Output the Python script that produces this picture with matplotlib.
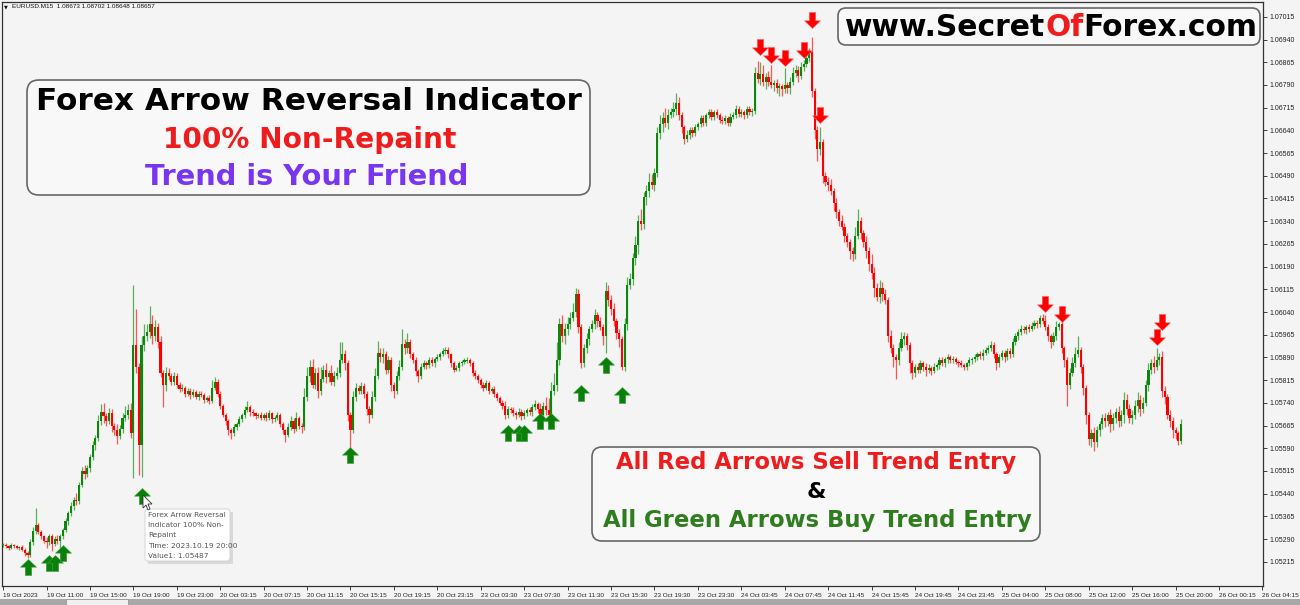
import numpy as np
import matplotlib
matplotlib.use("Agg")
import matplotlib.pyplot as plt
from matplotlib.path import Path
from matplotlib.patches import FancyBboxPatch, Rectangle, Polygon

# prices are kept in points (0.00001) above BASE
BASE = 1.05

open_first = 270

closes = [
    272, 268, 262, 270, 266, 262, 264, 255, 245, 238, 280, 318, 335, 315, 300, 285,
    280, 300, 275, 290, 285, 300, 320, 350, 375, 400, 420, 415, 470, 515, 505, 525,
    560, 600, 625, 680, 710, 695, 680, 705, 665, 650, 630, 655, 690, 700, 715, 640,
    930, 860, 600, 930, 960, 975, 1000, 960, 990, 940, 840, 800, 840, 830, 810, 830,
    800, 785, 790, 770, 780, 765, 775, 760, 770, 765, 750, 755, 745, 790, 810, 770,
    730, 700, 680, 650, 640, 660, 670, 685, 700, 715, 725, 710, 705, 695, 700, 690,
    700, 690, 705, 685, 690, 700, 670, 650, 635, 660, 680, 655, 690, 665, 660, 760,
    830, 860, 800, 840, 780, 820, 850, 825, 840, 810, 830, 840, 880, 900, 870, 700,
    650, 760, 790, 780, 795, 770, 720, 700, 760, 830, 905, 890, 900, 850, 880, 800,
    780, 830, 860, 935, 920, 940, 900, 880, 845, 830, 860, 870, 865, 880, 870, 885,
    890, 900, 910, 915, 900, 870, 850, 855, 870, 875, 880, 882, 870, 840, 830, 815,
    800, 790, 805, 780, 785, 770, 755, 740, 730, 700, 720, 715, 705, 700, 710, 695,
    705, 715, 710, 725, 735, 720, 700, 730, 715, 700, 780, 800, 880, 1000, 960, 985,
    1000, 1020, 1040, 1100, 990, 870, 920, 950, 985, 1000, 1030, 1010, 990, 960, 1110, 1080,
    1050, 1010, 970, 950, 860, 1000, 1130, 1150, 1220, 1260, 1340, 1330, 1420, 1440, 1470, 1460,
    1500, 1630, 1660, 1680, 1665, 1690, 1700, 1710, 1730, 1690, 1650, 1610, 1625, 1640, 1630, 1650,
    1660, 1680, 1665, 1690, 1700, 1685, 1700, 1690, 1675, 1670, 1680, 1665, 1685, 1690, 1710, 1695,
    1700, 1690, 1710, 1700, 1705, 1830, 1810, 1825, 1800, 1815, 1800, 1790, 1795, 1780, 1785, 1775,
    1790, 1780, 1800, 1830, 1840, 1820, 1850, 1860, 1880, 1900, 1770, 1640, 1580, 1600, 1490, 1470,
    1460, 1440, 1400, 1370, 1340, 1320, 1290, 1270, 1240, 1230, 1290, 1340, 1300, 1270, 1240, 1200,
    1170, 1120, 1090, 1120, 1100, 1080, 960, 920, 890, 880, 920, 950, 960, 930, 870, 840,
    860, 850, 870, 860, 850, 855, 845, 860, 865, 880, 870, 885, 890, 880, 885, 875,
    870, 865, 860, 870, 880, 885, 890, 900, 895, 905, 915, 920, 930, 900, 870, 890,
    905, 890, 910, 900, 940, 960, 975, 985, 980, 990, 985, 995, 1005, 1000, 1020, 1010,
    990, 960, 940, 960, 990, 1000, 920, 880, 800, 840, 870, 900, 915, 860, 790, 700,
    620, 640, 610, 650, 670, 690, 680, 700, 670, 690, 710, 680, 700, 750, 720, 690,
    700, 730, 750, 720, 740, 800, 850, 870, 860, 880, 890, 780, 760, 700, 680, 650,
    640, 615, 670,
]

wick_up = [
    5, 6, 4, 8, 5, 6, 4, 7, 6, 5, 10, 12, 58, 8, 6, 5,
    12, 8, 6, 10, 15, 8, 6, 10, 8, 12, 10, 22, 8, 14, 20, 10,
    12, 15, 10, 20, 25, 30, 12, 18, 15, 10, 20, 12, 15, 30, 20, 25,
    200, 120, 10, 30, 40, 25, 60, 30, 25, 15, 20, 10, 20, 15, 10, 12,
    10, 8, 12, 6, 10, 8, 12, 6, 8, 10, 6, 8, 10, 25, 15, 8,
    10, 6, 8, 5, 8, 10, 8, 12, 8, 15, 20, 8, 10, 6, 8, 10,
    8, 10, 12, 6, 8, 10, 8, 6, 5, 12, 15, 10, 20, 8, 10, 30,
    30, 20, 25, 15, 20, 40, 15, 20, 10, 25, 15, 20, 60, 40, 15, 10,
    10, 20, 15, 10, 15, 10, 8, 10, 20, 25, 40, 15, 20, 10, 15, 10,
    8, 15, 20, 50, 15, 30, 10, 8, 10, 8, 12, 10, 8, 12, 10, 8,
    10, 8, 12, 10, 8, 6, 8, 10, 8, 6, 8, 10, 6, 8, 10, 6,
    8, 10, 12, 6, 8, 10, 6, 8, 10, 15, 8, 6, 10, 8, 12, 8,
    10, 8, 12, 10, 15, 8, 20, 12, 30, 40, 30, 40, 60, 20, 30, 20,
    25, 20, 30, 20, 15, 10, 15, 20, 10, 15, 20, 10, 15, 10, 30, 20,
    15, 20, 10, 15, 10, 20, 25, 20, 15, 30, 20, 40, 15, 20, 30, 25,
    15, 20, 30, 20, 35, 20, 15, 25, 35, 20, 10, 8, 15, 10, 12, 10,
    8, 10, 12, 8, 10, 12, 8, 10, 8, 12, 10, 8, 12, 10, 15, 10,
    10, 8, 12, 10, 8, 20, 40, 40, 30, 15, 20, 56, 10, 15, 12, 8,
    56, 10, 15, 20, 15, 12, 15, 13, 10, 12, 50, 10, 15, 52, 10, 12,
    15, 20, 10, 15, 10, 20, 15, 10, 12, 15, 30, 40, 15, 10, 20, 15,
    30, 20, 15, 25, 20, 15, 10, 20, 15, 10, 20, 25, 15, 10, 12, 10,
    8, 10, 12, 8, 10, 12, 8, 10, 8, 12, 10, 8, 12, 8, 10, 8,
    8, 10, 8, 6, 10, 8, 12, 8, 10, 12, 8, 10, 15, 10, 8, 12,
    10, 8, 12, 10, 15, 10, 8, 12, 10, 8, 10, 12, 8, 10, 10, 15,
    20, 10, 8, 15, 20, 8, 10, 8, 10, 15, 20, 25, 45, 10, 8, 10,
    10, 15, 20, 15, 10, 12, 15, 10, 20, 15, 12, 20, 15, 25, 20, 15,
    15, 20, 25, 15, 20, 15, 20, 15, 25, 40, 15, 20, 15, 10, 15, 12,
    10, 8, 15,
]

wick_dn = [
    5, 6, 8, 5, 6, 4, 8, 6, 10, 10, 8, 10, 12, 8, 10, 8,
    20, 10, 25, 8, 10, 30, 10, 8, 12, 10, 15, 12, 10, 8, 15, 10,
    12, 10, 15, 10, 12, 20, 15, 10, 20, 15, 25, 10, 15, 10, 12, 15,
    148, 20, 100, 105, 20, 15, 20, 25, 15, 20, 15, 75, 20, 15, 10, 12,
    10, 8, 6, 10, 8, 12, 6, 8, 10, 6, 12, 8, 10, 6, 8, 12,
    10, 8, 12, 15, 20, 8, 10, 6, 8, 10, 6, 12, 8, 10, 6, 8,
    6, 10, 8, 12, 8, 6, 10, 12, 25, 8, 10, 15, 8, 10, 20, 10,
    15, 20, 10, 15, 25, 15, 10, 20, 15, 10, 15, 10, 15, 10, 20, 20,
    60, 10, 15, 12, 10, 15, 20, 25, 10, 15, 10, 15, 20, 15, 10, 20,
    25, 10, 15, 10, 20, 15, 12, 10, 15, 20, 10, 8, 12, 10, 8, 10,
    8, 10, 6, 8, 12, 10, 8, 6, 10, 8, 6, 10, 8, 12, 10, 8,
    10, 12, 8, 10, 8, 12, 10, 8, 12, 15, 10, 8, 10, 15, 8, 12,
    10, 8, 10, 12, 8, 15, 20, 10, 15, 25, 10, 15, 20, 15, 20, 25,
    20, 15, 10, 15, 20, 15, 10, 15, 20, 10, 15, 20, 10, 30, 55, 20,
    20, 15, 20, 25, 10, 15, 20, 15, 20, 25, 30, 20, 15, 25, 20, 15,
    20, 15, 20, 25, 15, 20, 10, 15, 20, 15, 20, 15, 10, 15, 12, 10,
    10, 8, 12, 10, 8, 12, 10, 8, 12, 10, 8, 12, 10, 8, 10, 12,
    10, 12, 8, 10, 12, 10, 15, 20, 12, 25, 15, 10, 20, 15, 25, 20,
    10, 15, 20, 10, 15, 20, 10, 15, 10, 15, 20, 30, 40, 20, 25, 15,
    20, 15, 25, 20, 15, 10, 20, 15, 25, 20, 15, 10, 20, 15, 20, 25,
    20, 30, 15, 20, 25, 15, 20, 15, 30, 60, 15, 10, 20, 15, 30, 20,
    15, 10, 12, 15, 20, 10, 12, 8, 10, 12, 8, 10, 12, 8, 10, 8,
    10, 8, 12, 10, 8, 12, 10, 8, 10, 12, 8, 10, 8, 12, 20, 10,
    10, 15, 8, 12, 10, 8, 12, 10, 8, 12, 10, 8, 10, 12, 8, 10,
    10, 15, 20, 10, 12, 8, 15, 20, 70, 15, 10, 12, 8, 20, 25, 30,
    20, 25, 30, 15, 20, 15, 20, 15, 25, 20, 15, 20, 15, 25, 20, 15,
    20, 15, 20, 25, 15, 10, 20, 15, 20, 10, 15, 20, 25, 15, 20, 25,
    20, 15, 10,
]

# indicator arrows: bar index and level (points above BASE)
buy_idx = [9, 17, 19, 22, 51, 128, 186, 190, 192, 198, 202, 213, 222, 228]
buy_lvl = [198, 211, 211, 244, 433, 568, 641, 641, 641, 680, 680, 773, 865, 766]
sell_idx = [279, 283, 288, 295, 298, 301, 384, 390, 425, 427]
sell_lvl = [1916, 1889, 1879, 1906, 2005, 1691, 1067, 1034, 958, 1007]

time_labels = [
    "19 Oct 2023", "19 Oct 11:00", "19 Oct 15:00", "19 Oct 19:00", "19 Oct 23:00",
    "20 Oct 03:15", "20 Oct 07:15", "20 Oct 11:15", "20 Oct 15:15", "20 Oct 19:15",
    "20 Oct 23:15", "23 Oct 03:30", "23 Oct 07:30", "23 Oct 11:30", "23 Oct 15:30",
    "23 Oct 19:30", "23 Oct 23:30", "24 Oct 03:45", "24 Oct 07:45", "24 Oct 11:45",
    "24 Oct 15:45", "24 Oct 19:45", "24 Oct 23:45", "25 Oct 04:00", "25 Oct 08:00",
    "25 Oct 12:00", "25 Oct 16:00", "25 Oct 20:00", "26 Oct 00:15", "26 Oct 04:15",
]
bars_per_label = 16

BG = "#f4f4f4"
BULL = "#0b870b"
BEAR = "#ff0000"

c = np.array(closes, dtype=float)
o = np.concatenate([[open_first], c[:-1]])
hi = np.maximum(o, c) + np.array(wick_up)
lo = np.minimum(o, c) - np.array(wick_dn)
x = np.arange(len(c))

def px(p):
    return BASE + np.asarray(p, dtype=float) * 1e-5

fig = plt.figure(figsize=(13, 6.05), dpi=100, facecolor=BG)
ax = fig.add_axes([2 / 1300, 19 / 605, 1261 / 1300, 584 / 605])
ax.set_facecolor(BG)

up = c >= o
col = np.where(up, BULL, BEAR)
ax.vlines(x, px(lo), px(hi), colors=col, linewidth=0.9, alpha=0.65, zorder=2)
body_h = np.maximum(np.abs(c - o), 3)
body_b = np.where(np.abs(c - o) < 3, (o + c) / 2 - 1.5, np.minimum(o, c))
ax.bar(x, body_h * 1e-5, bottom=px(body_b), width=0.8, color=col,
       linewidth=0, zorder=3)

# arrow markers
arrow_up = Path([(0, 0.5), (0.5, 0.02), (0.2, 0.02), (0.2, -0.5),
                 (-0.2, -0.5), (-0.2, 0.02), (-0.5, 0.02), (0, 0.5)],
                closed=True)
arrow_dn = Path([(vx, -vy) for vx, vy in arrow_up.vertices], closed=True)
ax.plot(buy_idx, px(buy_lvl), linestyle="none", marker=arrow_up,
        markersize=11.5, color="#0a800a", markeredgewidth=0.4,
        markeredgecolor="#3fa03f", zorder=4)
ax.plot(sell_idx, px(sell_lvl), linestyle="none", marker=arrow_dn,
        markersize=11.5, color="#ff0000", markeredgewidth=0.4,
        markeredgecolor="#ff6060", zorder=4)

ax.set_xlim(-0.4, 464.2)
ax.set_ylim(px(135), px(2064))

xt = np.arange(len(time_labels)) * bars_per_label
ax.set_xticks(xt)
ax.set_xticklabels(time_labels, fontsize=4.6, family="Liberation Sans", ha="left")
ax.tick_params(axis="x", length=3, width=0.6, pad=2, colors="#222222")

yt = np.round(np.arange(1.05215, 1.07016, 0.00075), 5)
ax.yaxis.tick_right()
ax.set_yticks(yt)
ax.set_yticklabels([f"{v:.5f}" for v in yt], fontsize=5.0, family="Liberation Sans")
ax.tick_params(axis="y", length=3, width=0.6, pad=2, colors="#222222")
for s in ax.spines.values():
    s.set_color("#333333")
    s.set_linewidth(0.9)

# overlay in pixel coordinates for the annotations
ov = fig.add_axes([0, 0, 1, 1])
ov.set_xlim(0, 1300)
ov.set_ylim(605, 0)
ov.axis("off")
ov.patch.set_alpha(0)

ov.text(4, 7, "\u25bc", fontsize=3.6, va="center", ha="left", color="#111111")
ov.text(12, 7, "EURUSD.M15  1.08673 1.08702 1.08648 1.08657",
        fontsize=4.6, family="Liberation Sans", va="center", ha="left",
        color="#111111")

# bottom tab strip
ov.add_patch(Rectangle((0, 599), 1300, 6, fc="#a8a8a8", ec="none"))
ov.add_patch(Rectangle((66, 599), 62, 6, fc="#f0f0f0", ec="#8a8a8a", lw=0.5))

# title box
ov.add_patch(FancyBboxPatch((27, 80), 563, 115,
                            boxstyle="round,pad=0,rounding_size=12",
                            fc="#f8f8f8", ec="#666666", lw=1.2))
ov.text(309, 102, "Forex Arrow Reversal Indicator", fontsize=22.4,
        weight="bold", color="black", ha="center", va="center")
ov.text(310, 140, "100% Non-Repaint", fontsize=20.2, weight="bold",
        color="#ee1c1c", ha="center", va="center")
ov.text(307, 177, "Trend is Your Friend", fontsize=20.8, weight="bold",
        color="#7a35f0", ha="center", va="center")

# website box
ov.add_patch(FancyBboxPatch((838, 8), 422, 37,
                            boxstyle="round,pad=0,rounding_size=8",
                            fc="#f8f8f8", ec="#666666", lw=1.2))
t1 = ov.text(845, 28, "www.Secret", fontsize=21.4, weight="bold",
             color="black", ha="left", va="center")
t2 = ov.annotate("Of", xy=(1, 0), xycoords=t1, fontsize=21.4, weight="bold",
                 color="#ee1c1c", ha="left", va="bottom")
ov.annotate("Forex.com", xy=(1, 0), xycoords=t2, fontsize=21.4,
            weight="bold", color="black", ha="left", va="bottom")

# legend box
ov.add_patch(FancyBboxPatch((592, 447), 448, 94,
                            boxstyle="round,pad=0,rounding_size=10",
                            fc="#f8f8f8", ec="#666666", lw=1.2))
ov.text(816, 463, "All Red Arrows Sell Trend Entry", fontsize=16.4,
        weight="bold", color="#ee1c1c", ha="center", va="center")
ov.text(816, 492, "&", fontsize=16, weight="bold", color="black",
        ha="center", va="center")
ov.text(817, 521, "All Green Arrows Buy Trend Entry", fontsize=16.4,
        weight="bold", color="#2f7d1f", ha="center", va="center")

# tooltip
ov.add_patch(Rectangle((148, 512), 85, 52, fc="#c8c8c8", ec="none", alpha=0.6))
ov.add_patch(FancyBboxPatch((145, 509), 85, 52,
                            boxstyle="round,pad=0,rounding_size=3",
                            fc="white", ec="#d0d0d0", lw=0.6))
tip_lines = ["Forex Arrow Reversal", "Indicator 100% Non-", "Repaint",
             "Time: 2023.10.19 20:00", "Value1: 1.05487"]
for k, line in enumerate(tip_lines):
    ov.text(148, 515 + k * 10.2, line, fontsize=5.3, color="#555555",
            ha="left", va="center")

# mouse pointer
cur = [(0, 0), (0, 13), (3, 10), (5, 15), (7, 14), (5, 9), (9, 9)]
ov.add_patch(Polygon([(143 + a, 495 + b) for a, b in cur], closed=True,
                     fc="white", ec="#333333", lw=0.6))

fig.savefig("out.png", dpi=100, facecolor=BG)
